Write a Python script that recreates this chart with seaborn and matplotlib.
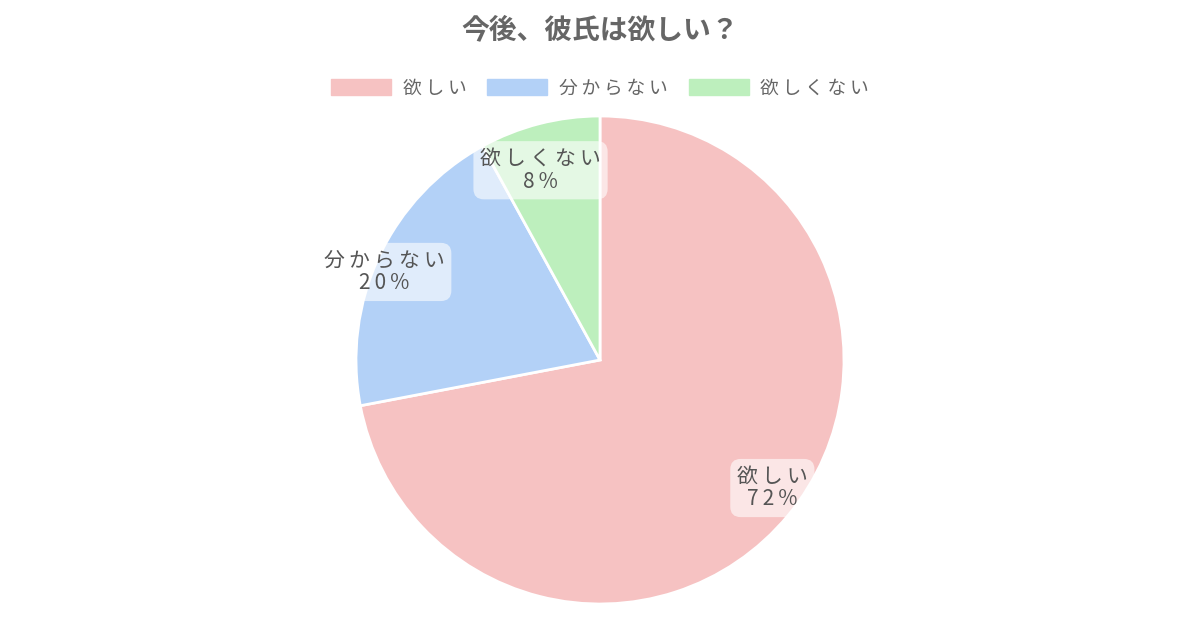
import matplotlib
matplotlib.use("Agg")
import numpy as np
import matplotlib.pyplot as plt
from matplotlib.patches import Patch
import seaborn as sns

# Données
categories = ["欲しい", "分からない", "欲しくない"]
valeurs = [72, 20, 8]
couleurs = ["#F6C2C2", "#B3D1F7", "#BDEFBD"]
titre = "今後、彼氏は欲しい？"

# Mise en page des étiquettes (fraction du rayon, décalage angulaire)
label_r = [0.88, 0.955, 0.815]
label_decalage = -3

sns.set_theme(style="white")
plt.rcParams['font.family'] = ['Noto Sans CJK JP', 'DejaVu Sans']

fig = plt.figure(figsize=(12, 6.4), dpi=100)
ax = fig.add_axes([356 / 1200, 36 / 640, 488 / 1200, 488 / 640])

wedges, _ = ax.pie(
    valeurs,
    colors=couleurs,
    startangle=90,
    counterclock=False,
    radius=1,
    wedgeprops=dict(edgecolor="white", linewidth=2),
)
ax.set_xlim(-1, 1)
ax.set_ylim(-1, 1)
ax.set_aspect("equal")
ax.axis("off")

# Étiquettes avec fond blanc semi-transparent
total = sum(valeurs)
cumul = 0
for cat, val, r in zip(categories, valeurs, label_r):
    milieu = (cumul + val / 2) / total
    cumul += val
    theta = np.deg2rad(90 - 360 * milieu - label_decalage)
    x, y = r * np.cos(theta), r * np.sin(theta)
    texte = "\u2009".join(cat) + "\n" + "\u2009".join(f"{val}%")
    ax.text(x, y, texte, ha="center", va="center", fontsize=15,
            color="#555555", linespacing=1.05,
            bbox=dict(boxstyle="round,pad=0.32,rounding_size=0.5",
                      fc=(1, 1, 1, 0.6), ec="none"))

# Titre
fig.text(0.5, 1 - 30 / 640, titre, ha="center", va="center",
         fontsize=20, fontweight="bold", color="#666666")

# Légende
handles = [Patch(facecolor=c, edgecolor=c) for c in couleurs]
leg = fig.legend(handles, ["\u2009".join(c) for c in categories],
                 loc="center", bbox_to_anchor=(0.5, 1 - 88 / 640),
                 ncol=3, frameon=False, fontsize=13.5,
                 handlelength=3.2, handleheight=0.96,
                 handletextpad=0.64, columnspacing=1.1)
for t in leg.get_texts():
    t.set_color("#666666")

fig.savefig("out.png", dpi=100, facecolor="white")
